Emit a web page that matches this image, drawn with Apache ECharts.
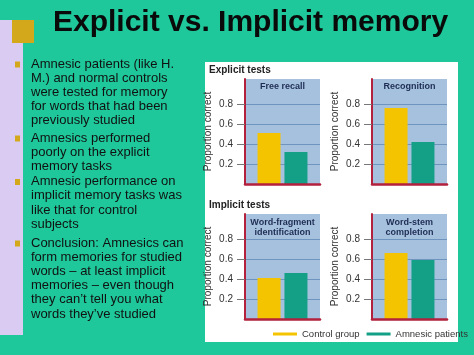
<!DOCTYPE html>
<html>
<head>
<meta charset="utf-8">
<script src="https://cdn.jsdelivr.net/npm/echarts@6/dist/echarts.min.js"></script>
<style>
html, body { margin: 0; padding: 0; background: #1ec89a; }
#main { width: 474px; height: 355px; }
</style>
</head>
<body>
<div id="main"></div>
<script>
// chart data
var panelNames = ['Free recall', 'Recognition', 'Word-fragment\nidentification', 'Word-stem\ncompletion'];
var controlGroup = [0.51, 0.76, 0.41, 0.66];
var amnesicPatients = [0.32, 0.42, 0.46, 0.59];
var yTicks = [0.2, 0.4, 0.6, 0.8];
var groupNames = ['Explicit tests', 'Implicit tests'];
var seriesNames = ['Control group', 'Amnesic patients'];

// slide text
var slideTitle = 'Explicit vs. Implicit memory';
var bullets = [
    'Amnesic patients (like H.\nM.) and normal controls\nwere tested for memory\nfor words that had been\npreviously studied',
    'Amnesics performed\npoorly on the explicit\nmemory tasks',
    'Amnesic performance on\nimplicit memory tasks was\nlike that for control\nsubjects',
    'Conclusion: Amnesics can\nform memories for studied\nwords \u2013 at least implicit\nmemories \u2013 even though\nthey can\u2019t tell you what\nwords they\u2019ve studied'
];
var bulletTops = [57, 131, 174.5, 236];

var chartDom = document.getElementById('main');
var myChart = echarts.init(chartDom);
var option;

var gridLeft = [245, 372, 245, 372];
var gridTop = [79, 79, 214, 214];
var yellow = '#f5c400';
var green = '#13a086';
var red = '#b3213d';

var grids = [], xAxes = [], yAxes = [], series = [], graphics = [];

// slide decorations
graphics.push({ type: 'rect', z: -5, shape: { x: 0, y: 20, width: 23, height: 315 }, style: { fill: '#dacbf3' } });
graphics.push({ type: 'rect', shape: { x: 12, y: 20, width: 22, height: 23 }, style: { fill: '#d3a81b' } });
graphics.push({
    type: 'text', x: 53, y: 23,
    style: { text: slideTitle, fill: '#0a0a0a', font: 'bold 30px "Liberation Sans", Arial, sans-serif', verticalAlign: 'middle' }
});
for (var b = 0; b < bullets.length; b++) {
    graphics.push({ type: 'rect', shape: { x: 15, y: bulletTops[b] + 4.5, width: 5, height: 6 }, style: { fill: '#d3a81b' } });
    graphics.push({
        type: 'text', x: 31, y: bulletTops[b],
        style: { text: bullets[b], fill: '#111', font: '13px "Liberation Sans", Arial, sans-serif', lineHeight: 14.2, verticalAlign: 'top' }
    });
}

// white figure panel
graphics.push({ type: 'rect', z: -5, shape: { x: 205, y: 62, width: 253, height: 280 }, style: { fill: '#ffffff' } });
graphics.push({
    type: 'text', x: 209, y: 70,
    style: { text: groupNames[0], fill: '#222', font: 'bold 10px "Liberation Sans", Arial, sans-serif', verticalAlign: 'middle' }
});
graphics.push({
    type: 'text', x: 209, y: 205,
    style: { text: groupNames[1], fill: '#222', font: 'bold 10px "Liberation Sans", Arial, sans-serif', verticalAlign: 'middle' }
});

for (var i = 0; i < panelNames.length; i++) {
    grids.push({
        left: gridLeft[i], top: gridTop[i], width: 75, height: 105,
        show: true, backgroundColor: '#a6c1dd', borderWidth: 0,
        outerBoundsMode: 'none'
    });
    xAxes.push({
        type: 'category', gridIndex: i, data: [''], z: 3,
        axisLine: { lineStyle: { color: red, width: 2.5 } },
        axisTick: { show: false }, axisLabel: { show: false }
    });
    yAxes.push({
        type: 'value', gridIndex: i, min: 0, max: 1.05,
        name: 'Proportion correct', nameLocation: 'middle', nameGap: 32,
        nameTextStyle: { color: '#333', fontSize: 10, fontFamily: 'Liberation Sans' },
        axisLine: { show: true, lineStyle: { color: red, width: 2 } },
        axisTick: { show: true, length: 8, customValues: yTicks, lineStyle: { color: '#777' } },
        axisLabel: { customValues: yTicks, margin: 12, color: '#333', fontSize: 10, fontFamily: 'Liberation Sans',
            formatter: function (v) { return v.toFixed(1); } },
        splitLine: { show: true, lineStyle: { color: '#6f94bd', width: 1 } }
    });
    series.push({
        name: seriesNames[0], type: 'bar', xAxisIndex: i, yAxisIndex: i,
        data: [controlGroup[i]], barWidth: 23, barGap: '17%', itemStyle: { color: yellow }
    });
    series.push({
        name: seriesNames[1], type: 'bar', xAxisIndex: i, yAxisIndex: i,
        data: [amnesicPatients[i]], barWidth: 23, barGap: '17%', itemStyle: { color: green }
    });
    // one-line titles near the top, two-line titles a little lower
    var twoLines = panelNames[i].indexOf('\n') >= 0;
    graphics.push({
        type: 'text', x: gridLeft[i] + 37.5, y: gridTop[i] + (twoLines ? 14 : 8),
        style: { text: panelNames[i], fill: '#1f2d55', font: 'bold 9px "Liberation Sans", Arial, sans-serif',
            align: 'center', verticalAlign: 'middle', lineHeight: 10 }
    });
}

option = {
    backgroundColor: '#1ec89a',
    animation: false,
    legend: {
        data: seriesNames, left: 273, top: 329, padding: 0,
        icon: 'rect', itemWidth: 24, itemHeight: 3, itemGap: 7,
        textStyle: { color: '#333', fontSize: 9.5, fontFamily: 'Liberation Sans' }
    },
    graphic: graphics,
    grid: grids,
    xAxis: xAxes,
    yAxis: yAxes,
    series: series
};

option && myChart.setOption(option);
</script>
</body>
</html>
